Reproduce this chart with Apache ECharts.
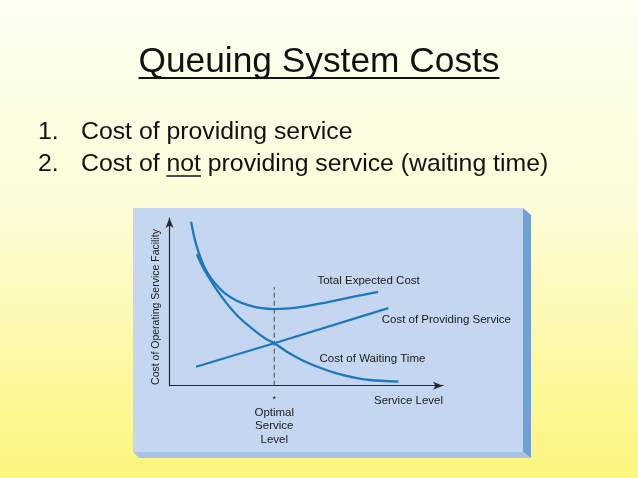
<!DOCTYPE html>
<html><head><meta charset="utf-8">
<script src="https://cdn.jsdelivr.net/npm/echarts@6/dist/echarts.min.js"></script>
<style>html,body{margin:0;padding:0;overflow:hidden;background:#fdfbd0;}#c{width:638px;height:478px;}</style>
</head><body><div id="c"></div>
<script>
// ---- text ----
const titleText = 'Queuing System Costs';
const listNumbers = ['1.', '2.'];
const listLine1 = 'Cost of providing service';
const listLine2Parts = ['Cost of ', 'not', ' providing service (waiting time)'];
const yAxisTitle = 'Cost of Operating Service Facility';
const xAxisTitle = 'Service Level';
const optimalLabel = ['Optimal', 'Service', 'Level'];
const seriesNames = ['Total Expected Cost', 'Cost of Providing Service', 'Cost of Waiting Time'];

// ---- data (x: service level 0-100, y: cost 0-100) ----
const totalX = [7.9, 9.3, 11.2, 13.6, 16.6, 20.3, 24.6, 28.8, 33.7, 38.3, 42.2, 46.5, 55.0, 63.6, 72.1, 76.3];
const totalY = [97.8, 86.9, 76.9, 68.0, 61.1, 55.1, 50.7, 48.1, 46.2, 45.7, 45.9, 46.5, 48.9, 51.8, 54.6, 55.9];
const provideX = [9.7, 38.3, 80.0];
const provideY = [11.3, 25.3, 46.2];
const waitX = [10.0, 11.8, 14.2, 17.3, 20.9, 25.2, 30.1, 34.9, 38.3, 42.9, 48.9, 55.0, 61.1, 67.2, 73.3, 83.7];
const waitY = [78.4, 72.0, 65.0, 57.1, 49.1, 41.1, 34.2, 28.3, 25.3, 20.3, 14.9, 10.7, 7.4, 5.0, 3.4, 2.4];
const optimalX = 38.3;
const optimalTop = 58.9;
// label anchor points (data coords) for curve names
const labelAnchors = [[72.8, 62.5], [101.2, 39.2], [74.2, 16.1]];

const FONT = "'Liberation Sans', Arial, sans-serif";
const curveColor = '#1d78bd';
const pair = (xs, ys) => xs.map((x, i) => [x, ys[i]]);

const chart = echarts.init(document.getElementById('c'), null, {renderer: 'canvas'});
const axisLine = {show: true, symbol: ['none', 'arrow'], symbolSize: [6, 10], lineStyle: {color: '#2a2a2a', width: 1.2}};
const lineSeries = (name, data, smooth) => ({
  name, type: 'line', data, smooth, showSymbol: false, z: 5,
  lineStyle: {color: curveColor, width: 2.3}, silent: true
});
chart.setOption({
  animation: false,
  grid: {left: 169.5, top: 218, right: 195, bottom: 92.3},
  xAxis: {type: 'value', min: 0, max: 100, axisLine, axisTick: {show: false}, axisLabel: {show: false}, splitLine: {show: false}},
  yAxis: {type: 'value', min: 0, max: 100, axisLine, axisTick: {show: false}, axisLabel: {show: false}, splitLine: {show: false}},
  series: [
    {type: 'line', data: [[optimalX, 0], [optimalX, optimalTop]], showSymbol: false, z: 4, silent: true,
     lineStyle: {color: '#4a4a4a', width: 1, type: [5, 3]}},
    lineSeries(seriesNames[0], pair(totalX, totalY), 0.3),
    lineSeries(seriesNames[1], pair(provideX, provideY), false),
    lineSeries(seriesNames[2], pair(waitX, waitY), 0.3)
  ]
});

const px = (x, y) => chart.convertToPixel({gridIndex: 0}, [x, y]);
const ctx = document.createElement('canvas').getContext('2d');
const measure = (t, size) => { ctx.font = size + 'px ' + FONT; return ctx.measureText(t).width; };

const g = [];
const txt = (text, x, y, size, opts) => g.push(Object.assign({type: 'text', x, y, z: 10,
  style: Object.assign({text, fontSize: size, fontFamily: FONT, fill: '#111', align: 'left', verticalAlign: 'middle'}, (opts && opts.style) || {})},
  opts && opts.rotation ? {rotation: opts.rotation} : {}));
const line = (x1, y1, x2, y2, w, color) => g.push({type: 'line', z: 10, shape: {x1, y1, x2, y2}, style: {stroke: color || '#111', lineWidth: w}});

// background
g.push({type: 'rect', z: -10, shape: {x: 0, y: 0, width: 638, height: 478},
  style: {fill: new echarts.graphic.LinearGradient(0, 0, 0, 1, [
    {offset: 0, color: '#fefef3'}, {offset: 0.45, color: '#fdfcd6'}, {offset: 1, color: '#fbf67c'}])}});
// panel
g.push({type: 'rect', z: -5, shape: {x: 133, y: 208, width: 390, height: 244}, style: {fill: '#c5d7f0'}});
g.push({type: 'polygon', z: -5, shape: {points: [[523, 208], [531, 215], [531, 458], [523, 452]]}, style: {fill: '#6f9fd5'}});
g.push({type: 'polygon', z: -5, shape: {points: [[133, 452], [523, 452], [531, 458], [139, 458]]}, style: {fill: '#a9c3e8'}});

// title
const tSize = 35.3;
const tW = measure(titleText, tSize);
txt(titleText, 319, 62.5, tSize, {style: {align: 'center'}});
line(319 - tW / 2, 78, 319 + tW / 2, 78, 2);

// list
const lSize = 24.8;
txt(listNumbers[0], 38, 132, lSize);
txt(listNumbers[1], 38, 164, lSize);
txt(listLine1, 81, 132, lSize);
let cx = 81;
listLine2Parts.forEach((p, i) => {
  txt(p, cx, 164, lSize);
  const w = measure(p, lSize);
  if (i === 1) line(cx, 176, cx + w, 176, 1.6);
  cx += w;
});

// chart labels
const cSize = 11.5;
seriesNames.forEach((n, i) => { const p = px(labelAnchors[i][0], labelAnchors[i][1]); txt(n, p[0], p[1], cSize, {style: {align: 'center', fill: '#1a1a1a'}}); });
const xEnd = px(100, 0);
txt(xAxisTitle, xEnd[0], 401, cSize, {style: {align: 'right', fill: '#1a1a1a'}});
const o = px(optimalX, 0);
txt('*', o[0], 400, 9, {style: {align: 'center', fill: '#1a1a1a'}});
optimalLabel.forEach((t, i) => txt(t, o[0], 412.5 + i * 13.7, cSize, {style: {align: 'center', fill: '#1a1a1a'}}));
txt(yAxisTitle, 156, 307, 10.5, {rotation: Math.PI / 2, style: {align: 'center', fill: '#1a1a1a'}});

chart.setOption({graphic: {elements: g}});
</script>
</body></html>
